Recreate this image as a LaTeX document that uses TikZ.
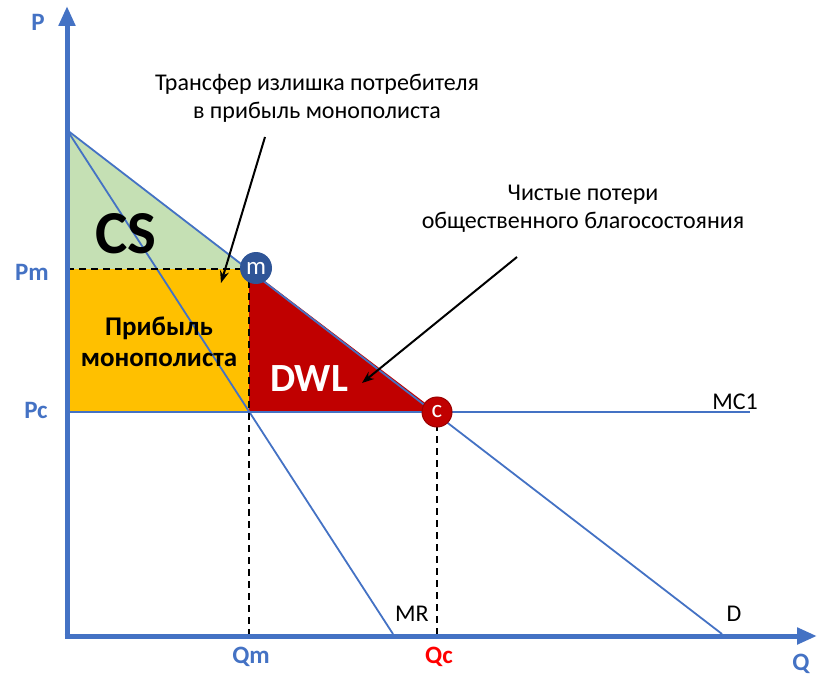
\documentclass[tikz,border=0pt]{standalone}
\usepackage{fontspec}
\setmainfont{Carlito}
\usetikzlibrary{arrows.meta}
\definecolor{axblue}{HTML}{4472C4}
\definecolor{mblue}{HTML}{2F5597}
\definecolor{csgreen}{HTML}{C5E0B4}
\definecolor{prorange}{HTML}{FFC000}
\definecolor{dwlred}{HTML}{C00000}
\definecolor{qcred}{HTML}{FF0000}
\tikzset{
  axis/.style={line width=5pt, axblue, -{Triangle[length=20pt,width=16pt]}},
  curve/.style={line width=1.8pt, axblue},
  guide/.style={line width=2pt, black, dash pattern=on 7pt off 5pt},
  pointer/.style={line width=2pt, black, -{Stealth[length=12pt,width=9pt]}},
  axlabel/.style={font=\fontsize{25}{28}\selectfont\bfseries, text=axblue, inner sep=0pt},
  curvelabel/.style={font=\fontsize{24}{28}\selectfont, inner sep=0pt},
  note/.style={font=\fontsize{24}{28}\selectfont, align=center, inner sep=0pt},
  pt/.style={circle, minimum size=32pt, inner sep=0pt, text=white, font=\fontsize{25}{28}\selectfont},
}
\begin{document}
\begin{tikzpicture}[x=1pt,y=-1pt]
\useasboundingbox (0,0) rectangle (823,693);
% key coordinates
\coordinate (O) at (67,636);
\coordinate (Ytop) at (67,6);
\coordinate (Xend) at (817,636);
\coordinate (A) at (67,130);
\coordinate (PmL) at (67,269);
\coordinate (PcL) at (67,412);
\coordinate (M) at (249,269);
\coordinate (Mlow) at (249,412);
\coordinate (C) at (437,412);
\coordinate (Dend) at (722,634);
\coordinate (MRend) at (393,634);
\coordinate (MCend) at (750,412);
\coordinate (Qmb) at (249,636);
\coordinate (Qcb) at (437,636);
% areas
\fill[csgreen] (A) -- (PmL) -- (M) -- cycle;
\fill[prorange] (PmL) rectangle (Mlow);
\fill[dwlred] (M) -- (Mlow) -- (C) -- cycle;
% curves
\draw[curve] (A) -- (Dend);
\draw[curve] (A) -- (MRend);
\draw[curve] (PcL) -- (MCend);
% guides
\draw[guide] (PmL) -- (M);
\draw[guide] (M) -- (Qmb);
\draw[guide] (C) -- (Qcb);
% axes
\draw[axis] (O) -- (Ytop);
\draw[axis] ([xshift=-2.5pt]O) -- (Xend);
% points
\node[pt, fill=mblue] (m) at (256,268) {m};
\node[pt, fill=dwlred, draw=dwlred!80!black, line width=1pt, minimum size=30pt] (c) at (437,412) {c};
% area labels
\node[font=\fontsize{61}{66}\selectfont\bfseries, inner sep=0pt] (cs) at (126,234) {CS};
\node[font=\fontsize{27}{31}\selectfont\bfseries, align=center, inner sep=0pt] (prof) at (159,342) {Прибыль\\монополиста};
\node[font=\fontsize{40}{44}\selectfont\bfseries, text=white, inner sep=0pt] (dwl) at (309,379) {DWL};
% axis labels
\node[axlabel] (P) at (38,22) {P};
\node[axlabel] (Pm) at (32,272) {Pm};
\node[axlabel] (Pc) at (36,410) {Pc};
\node[axlabel] (Qm) at (251,657) {Qm};
\node[axlabel, text=qcred] (Qc) at (439,657) {Qc};
\node[axlabel] (Q) at (801,664) {Q};
% curve labels
\node[curvelabel] (mr) at (412,614) {MR};
\node[curvelabel] (d) at (734,614) {D};
\node[curvelabel] (mc) at (735,402) {MC1};
% notes
\node[note] (n1) at (317,98) {Трансфер излишка потребителя\\в прибыль монополиста};
\node[note] (n2) at (583,209) {Чистые потери\\общественного благосостояния};
\coordinate (a1s) at (265,137);
\coordinate (a1e) at (221,283);
\coordinate (a2s) at (517,257);
\coordinate (a2e) at (362,383);
\draw[pointer] (a1s) -- (a1e);
\draw[pointer] (a2s) -- (a2e);
\end{tikzpicture}
\end{document}
